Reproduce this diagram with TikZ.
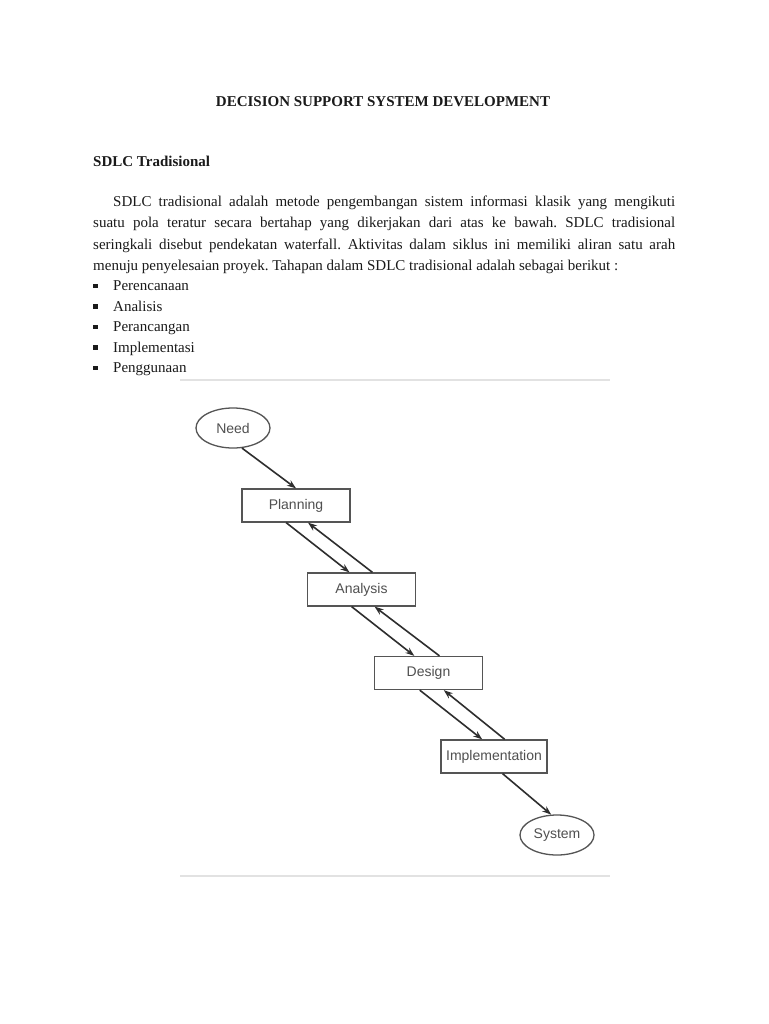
\documentclass[tikz,border=0pt]{standalone}
\usepackage{fontspec}
\setmainfont{Liberation Serif}
\newfontfamily\diagfont{Liberation Sans}
\usetikzlibrary{calc,arrows.meta,shapes.geometric}
\definecolor{inkc}{HTML}{1A1A1A}
\definecolor{boxc}{HTML}{555555}
\definecolor{labc}{HTML}{505050}
\definecolor{arrc}{HTML}{2E2E2E}
\definecolor{rulec}{HTML}{E2E2E2}
\frenchspacing
\begin{document}
\begin{tikzpicture}[x=1pt,y=-1pt,
  body/.style={anchor=base west, inner sep=0pt, text=inkc, font=\fontsize{15}{18}\selectfont},
  bodybold/.style={body, font=\fontsize{15}{18}\selectfont\bfseries},
  stage/.style={draw=boxc, line width=1.3pt, rectangle, minimum width=108pt, minimum height=33pt, inner sep=0pt, text=labc, font=\diagfont\fontsize{14}{16}\selectfont},
  term/.style={draw=boxc, line width=1.3pt, ellipse, minimum width=74pt, minimum height=40pt, inner sep=0pt, text=labc, font=\diagfont\fontsize{14}{16}\selectfont},
  flow/.style={draw=arrc, line width=1.6pt, -{Stealth[length=9pt,width=6.5pt]}},
  sep/.style={draw=rulec, line width=1.4pt}
]
\fill[white] (0,0) rectangle (768,1024);
\useasboundingbox (0,0) rectangle (768,1024);

% text
\node[bodybold, anchor=base] (title) at (383,107) {DECISION SUPPORT SYSTEM DEVELOPMENT};
\node[bodybold] (head) at (93,167) {SDLC Tradisional};
\node[body] (l1) at (113,207) {\makebox[562pt][s]{SDLC tradisional adalah metode pengembangan sistem informasi klasik yang mengikuti}};
\node[body] (l2) at (93,228) {\makebox[582pt][s]{suatu pola teratur secara bertahap yang dikerjakan dari atas ke bawah. SDLC tradisional}};
\node[body] (l3) at (93,249) {\makebox[582pt][s]{seringkali disebut pendekatan waterfall. Aktivitas dalam siklus ini memiliki aliran satu arah}};
\node[body] (l4) at (93,270) {menuju penyelesaian proyek. Tahapan dalam SDLC tradisional adalah sebagai berikut :};
\foreach \t [count=\i] in {Perencanaan, Analisis, Perancangan, Implementasi, Penggunaan} {
  \node[body] (item\i) at (113,{290.5+20.6*(\i-1)}) {\t};
  \fill[inkc] (93,{290.5+20.6*(\i-1)-7}) rectangle (97.5,{290.5+20.6*(\i-1)-2.5});
}

% separators
\draw[sep] (180,380) -- (610,380);
\draw[sep] (180,876) -- (610,876);

% diagram
\node[term] (need) at (233,428) {Need};
\node[stage] (plan) at (296,505.5) {Planning};
\node[stage] (ana) at (361.5,589.5) {Analysis};
\node[stage] (des) at (428.5,673) {Design};
\node[stage, minimum width=106pt] (imp) at (494,756.5) {Implementation};
\node[term] (sys) at (557,835) {System};

\draw[flow] (need.-66) -- (plan.north);
\draw[flow] ($(plan.south west)!0.41!(plan.south east)$) -- ($(ana.north west)!0.39!(ana.north east)$);
\draw[flow] ($(ana.north west)!0.60!(ana.north east)$) -- ($(plan.south west)!0.61!(plan.south east)$);
\draw[flow] ($(ana.south west)!0.41!(ana.south east)$) -- ($(des.north west)!0.37!(des.north east)$);
\draw[flow] ($(des.north west)!0.60!(des.north east)$) -- ($(ana.south west)!0.62!(ana.south east)$);
\draw[flow] ($(des.south west)!0.42!(des.south east)$) -- ($(imp.north west)!0.39!(imp.north east)$);
\draw[flow] ($(imp.north west)!0.60!(imp.north east)$) -- ($(des.south west)!0.64!(des.south east)$);
\draw[flow] ($(imp.south west)!0.58!(imp.south east)$) -- (sys.106);
\end{tikzpicture}
\end{document}
